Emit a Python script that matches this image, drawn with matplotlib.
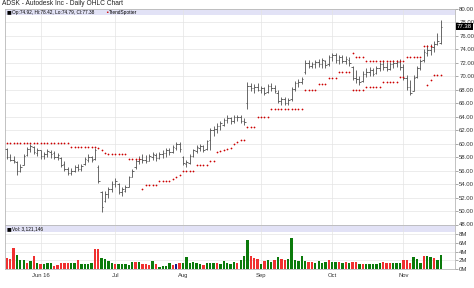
import numpy as np
import pandas as pd
import matplotlib
matplotlib.use("Agg")
import matplotlib.pyplot as plt

plt.rcParams['font.family'] = ['Liberation Sans', 'DejaVu Sans']

# trading days, 2016
holidays = ['2016-05-30', '2016-07-04', '2016-09-05']
days = pd.bdate_range('2016-05-17', '2016-11-16')
days = days[~days.isin(pd.to_datetime(holidays))]

opens = [59.2, 58.0, 57.6, 57.3, 56.0, 56.9, 58.3, 59.2, 59.5, 58.6,
         59.0, 58.2, 58.4, 58.8, 58.6, 58.0, 57.9, 57.0, 56.2, 55.6,
         56.0, 56.6, 56.2, 57.0, 57.6, 58.0, 57.7, 56.5, 52.8, 51.5,
         52.6, 53.2, 54.0, 54.0, 52.8, 53.0, 53.6, 55.0, 56.5, 57.4,
         57.8, 57.6, 57.5, 58.0, 58.3, 57.9, 58.4, 58.6, 59.0, 58.8,
         59.4, 60.0, 58.0, 57.0, 57.2, 58.1, 58.9, 59.4, 59.6, 59.2,
         60.5, 62.0, 62.2, 62.6, 62.8, 63.5, 63.8, 63.3, 63.9, 64.0,
         63.4, 66.0, 68.6, 68.2, 68.4, 68.0, 68.2, 67.7, 68.6, 68.2,
         67.6, 66.3, 66.6, 66.0, 66.6, 68.1, 69.0, 69.1, 70.6, 72.0,
         71.6, 71.9, 72.1, 71.8, 72.3, 71.8, 72.8, 73.1, 72.4, 72.8,
         72.3, 72.5, 71.4, 69.8, 69.6, 69.3, 70.4, 70.6, 70.9, 70.5,
         71.2, 71.8, 71.4, 71.1, 71.8, 72.0, 72.2, 71.4, 69.8, 68.4,
         67.8, 69.9, 71.3, 72.4, 73.4, 73.9, 74.3, 74.8, 74.92]
highs = [59.4, 58.4, 58.2, 57.4, 57.0, 58.4, 59.5, 60.0, 59.6, 59.3,
         59.0, 58.8, 59.2, 59.0, 58.9, 58.6, 58.0, 57.4, 56.6, 56.4,
         56.9, 57.0, 57.0, 58.0, 58.4, 58.2, 59.3, 56.8, 53.0, 53.0,
         53.6, 54.5, 54.9, 54.2, 53.6, 53.8, 55.2, 56.2, 57.7, 58.2,
         58.4, 58.3, 58.5, 58.7, 58.6, 58.8, 59.0, 59.3, 59.4, 59.8,
         60.3, 60.2, 58.2, 57.6, 58.4, 59.2, 59.8, 60.0, 59.8, 60.6,
         62.3, 62.6, 63.0, 63.4, 63.8, 64.2, 64.0, 64.2, 64.3, 64.2,
         63.8, 69.2, 69.0, 68.8, 69.0, 68.6, 68.4, 68.9, 69.0, 68.7,
         67.9, 67.0, 66.9, 66.8, 68.4, 69.3, 69.6, 69.9, 72.4, 72.4,
         72.2, 72.5, 72.6, 72.7, 72.4, 73.2, 73.5, 73.4, 73.1, 73.2,
         73.0, 72.9, 71.6, 70.9, 70.0, 70.8, 71.2, 71.4, 71.2, 71.6,
         72.2, 72.4, 72.2, 72.2, 72.4, 72.5, 72.6, 71.9, 70.2, 69.4,
         70.2, 71.6, 72.6, 74.0, 74.6, 74.8, 75.3, 76.4, 78.42]
lows = [57.8, 57.4, 57.2, 55.4, 55.8, 56.8, 58.2, 58.8, 58.4, 58.2,
        57.8, 57.8, 58.0, 57.9, 57.7, 57.6, 56.6, 56.0, 55.4, 55.3,
        55.8, 55.9, 55.9, 56.8, 57.3, 57.3, 57.6, 54.1, 49.9, 51.3,
        52.0, 52.8, 53.6, 52.6, 52.3, 52.8, 53.6, 55.0, 56.2, 57.0,
        57.2, 57.2, 57.4, 57.6, 57.5, 57.7, 57.9, 58.0, 58.3, 58.6,
        59.0, 58.8, 56.8, 56.5, 57.0, 58.0, 58.6, 58.9, 58.7, 59.0,
        59.0, 61.2, 61.6, 62.0, 62.6, 63.0, 62.9, 63.1, 63.3, 63.0,
        62.8, 65.2, 67.8, 67.6, 67.8, 67.5, 67.3, 67.6, 67.8, 67.5,
        66.0, 65.7, 65.7, 65.7, 66.4, 67.8, 68.4, 68.8, 70.4, 71.2,
        71.2, 71.3, 71.4, 71.2, 71.3, 71.6, 72.3, 72.0, 71.9, 72.0,
        71.8, 71.6, 69.4, 69.0, 68.7, 69.2, 69.9, 70.0, 70.0, 70.3,
        70.8, 71.0, 70.8, 70.9, 71.2, 71.4, 71.0, 69.4, 67.9, 67.2,
        67.8, 69.8, 71.0, 72.2, 73.0, 73.2, 73.6, 74.7, 74.79]
closes = [58.0, 57.6, 57.4, 55.9, 56.6, 58.2, 59.2, 59.6, 58.7, 59.0,
          58.2, 58.5, 58.9, 58.5, 58.0, 58.3, 56.9, 56.2, 55.7, 56.0,
          56.5, 56.2, 56.7, 57.8, 58.0, 57.6, 59.0, 54.5, 50.6, 52.6,
          53.3, 54.0, 54.4, 52.9, 53.2, 53.5, 55.0, 56.0, 57.4, 57.8,
          57.6, 57.5, 58.1, 58.4, 57.9, 58.5, 58.6, 59.0, 58.8, 59.5,
          60.0, 59.2, 57.2, 57.3, 58.1, 59.0, 59.5, 59.7, 59.0, 60.4,
          62.0, 62.2, 62.6, 63.0, 63.5, 63.8, 63.3, 63.9, 64.0, 63.4,
          63.2, 68.6, 68.2, 68.4, 68.0, 68.2, 67.6, 68.6, 68.3, 67.8,
          66.3, 66.6, 66.1, 66.5, 68.1, 69.0, 69.2, 69.6, 72.0, 71.6,
          71.9, 72.2, 71.8, 72.4, 71.7, 72.9, 73.2, 72.4, 72.8, 72.3,
          72.6, 72.0, 69.8, 69.6, 69.2, 70.4, 70.6, 70.9, 70.4, 71.2,
          71.9, 71.4, 71.1, 71.8, 72.0, 72.2, 71.4, 69.8, 68.4, 67.6,
          69.8, 71.3, 72.3, 73.6, 73.9, 74.3, 74.8, 75.2, 77.38]

N = np.nan
# TrendSpotter stops, above and below the bars
ts_upper = [60.15, 60.15, 60.15, 60.15, 60.15, 60.15, 60.15, 60.15, 60.15, 60.15,
            60.15, 60.15, 60.15, 60.15, 60.15, 60.15, 60.15, 60.15, 60.15, 59.5,
            59.5, 59.5, 59.5, 59.5, 59.5, 59.5, 59.5, 59.3, 59.0, 58.6,
            58.4, 58.4, 58.4, 58.4, 58.4, 58.4, 57.8, 57.8, 57.8, 57.8,
            N, N, N, N, N, N, N, N, N, N,
            N, N, N, N, N, N, N, N, N, N,
            N, N, N, N, N, N, N, N, N, N,
            N, N, N, N, N, N, N, N, N, N,
            N, N, N, N, N, N, N, N, N, N,
            N, N, N, N, N, N, N, N, N, N,
            N, N, 73.5, 72.9, 72.9, 72.9, 72.3, 72.3, 72.3, 72.3,
            72.3, 72.3, 72.3, 72.3, 72.3, 72.3, 72.3, 72.3, 72.8, 72.8,
            72.8, 72.8, 72.8, 74.5, 74.5, 74.5, N, N, N]
ts_lower = [N, N, N, N, N, N, N, N, N, N,
            N, N, N, N, N, N, N, N, N, N,
            N, N, N, N, N, N, N, N, N, N,
            N, N, N, N, N, N, N, N, N, N,
            53.2, 53.8, 53.8, 53.8, 53.8, 54.45, 54.45, 54.45, 54.45, 54.8,
            55.1, 55.4, 56.0, 56.0, 56.0, 56.0, 56.8, 56.8, 56.8, 56.8,
            57.5, 57.5, 58.8, 58.9, 59.1, 59.2, 59.3, 60.0, 60.2, 60.5,
            60.5, 62.5, 62.5, 62.5, 64.0, 64.0, 64.0, 64.0, 65.2, 65.2,
            65.2, 65.2, 65.2, 65.2, 65.2, 65.2, 65.2, 65.2, 67.9, 67.9,
            67.9, 67.9, 68.9, 68.9, 68.9, 69.7, 69.7, 69.7, 70.7, 70.7,
            70.7, 70.7, 67.9, 67.9, 67.9, 67.9, 68.4, 68.4, 68.4, 68.4,
            68.4, 69.2, 69.2, 69.2, 69.2, 69.2, 69.9, 69.9, N, N,
            N, N, N, N, 68.7, 69.4, 70.2, 70.2, 70.2]

volume = [2.5, 2.4, 4.8, 3.3, 2.0, 2.0, 1.5, 1.9, 3.0, 1.5,
          1.2, 1.3, 1.5, 1.4, 0.8, 0.9, 1.4, 1.4, 1.5, 1.4,
          1.4, 2.1, 1.1, 1.1, 1.1, 1.4, 4.6, 4.6, 2.5, 2.4,
          1.8, 1.5, 1.3, 1.2, 1.2, 1.3, 0.9, 1.7, 1.6, 1.7,
          1.3, 1.3, 0.9, 1.9, 1.1, 0.6, 0.8, 0.8, 1.4, 0.9,
          1.2, 1.4, 1.4, 2.7, 1.5, 1.7, 1.5, 1.3, 0.9, 1.5,
          1.4, 1.5, 1.5, 1.1, 1.9, 1.5, 1.3, 1.7, 1.5, 2.0,
          3.1, 6.7, 3.1, 2.5, 2.3, 1.3, 1.9, 2.0, 1.7, 2.1,
          2.7, 2.4, 2.0, 2.4, 7.1, 2.0, 1.8, 3.1, 1.9, 1.6,
          1.6, 1.5, 1.9, 1.5, 1.6, 2.1, 1.7, 1.6, 1.6, 1.4,
          1.6, 1.4, 1.6, 1.6, 1.3, 1.3, 1.1, 1.1, 1.2, 1.3,
          1.4, 1.7, 1.4, 1.4, 1.5, 1.5, 1.5, 2.0, 2.0, 1.5,
          2.7, 2.4, 1.5, 3.1, 2.9, 2.7, 2.5, 2.1, 3.121146]
# bar colour per day: g = up, r = down, b = unchanged
vol_dir = ['r', 'r', 'r', 'g', 'g', 'g', 'r', 'g', 'r', 'g',
           'r', 'g', 'g', 'g', 'r', 'r', 'r', 'r', 'r', 'g',
           'g', 'r', 'g', 'g', 'g', 'g', 'r', 'r', 'g', 'g',
           'g', 'g', 'r', 'g', 'g', 'g', 'g', 'g', 'r', 'g',
           'r', 'r', 'r', 'g', 'r', 'g', 'g', 'g', 'g', 'r',
           'b', 'r', 'g', 'g', 'g', 'g', 'g', 'g', 'r', 'g',
           'g', 'g', 'r', 'g', 'g', 'g', 'g', 'g', 'r', 'g',
           'g', 'g', 'r', 'r', 'r', 'g', 'r', 'g', 'g', 'r',
           'g', 'r', 'r', 'g', 'g', 'g', 'g', 'g', 'g', 'r',
           'r', 'g', 'g', 'g', 'g', 'r', 'g', 'g', 'r', 'g',
           'r', 'g', 'r', 'r', 'g', 'r', 'g', 'g', 'g', 'g',
           'g', 'r', 'r', 'r', 'g', 'g', 'g', 'r', 'r', 'r',
           'g', 'g', 'g', 'r', 'g', 'g', 'r', 'g', 'g']

month_labels = ['Jun 16', 'Jul', 'Aug', 'Sep', 'Oct', 'Nov']

x = np.arange(len(days))
month_pos = [i for i in range(1, len(days)) if days[i].month != days[i - 1].month]

W, H = 474, 288
fig = plt.figure(figsize=(W / 100, H / 100), dpi=100)
left, right = 4.7, 455
ax = fig.add_axes([left / W, (H - 224.5) / H, (right - left) / W, (224.5 - 9) / H])
axv = fig.add_axes([left / W, (H - 269.3) / H, (right - left) / W, (269.3 - 225) / H])

grid_c = '#e4e4e4'
band_c = '#e2e2f6'
spine_c = '#b8b8b8'
for a in (ax, axv):
    a.set_xlim(-0.6, 132.2)
    for s in a.spines.values():
        s.set_color(spine_c)
        s.set_linewidth(0.6)
    a.yaxis.tick_right()
    a.tick_params(axis='y', length=2, width=0.5, color='#888888', pad=1,
                  labelsize=4.3, labelcolor='#333333')
    a.tick_params(axis='x', length=0)
    a.set_xticks(month_pos)
    a.grid(True, color=grid_c, lw=0.5)
    a.set_axisbelow(True)

# price panel
ax.set_ylim(48, 80)
ax.set_yticks(np.arange(48, 81, 2))
ax.set_yticklabels(['%.2f' % v for v in np.arange(48, 81, 2)])
ax.set_xticklabels([])
ax.axhspan(79.05, 80, color=band_c, zorder=0.5, lw=0)

bar_c = '#505050'
ax.vlines(x, lows, highs, color=bar_c, lw=0.6, zorder=3)
ax.hlines(opens, x - 0.45, x, color=bar_c, lw=0.6, zorder=3)
ax.hlines(closes, x, x + 0.45, color=bar_c, lw=0.6, zorder=3)
ax.scatter(x, ts_upper, s=1.6, color='#cc0000', lw=0, zorder=4)
ax.scatter(x, ts_lower, s=1.6, color='#cc0000', lw=0, zorder=4)

ty = ax.get_yaxis_transform()
ax.text(0.004, 79.53, '\u25a0', fontsize=3.6, va='center', ha='left',
        transform=ty, family=['DejaVu Sans'])
ax.text(0.016, 79.53, 'Op:%.2f, Hi:%.2f, Lo:%.2f, Cl:%.2f'
        % (opens[-1], highs[-1], lows[-1], closes[-1]),
        fontsize=3.4, va='center', ha='left', transform=ty)
ax.text(0.222, 79.53, '\u2022', fontsize=4.2, va='center', ha='left', color='#cc0000',
        transform=ty, family=['DejaVu Sans'])
ax.text(0.232, 79.53, 'TrendSpotter', fontsize=3.4, va='center', ha='left',
        transform=ty)
ax.text(1.004, closes[-1], '%.2f' % closes[-1], fontsize=4.3, color='white',
        va='center', ha='left', transform=ty,
        bbox=dict(boxstyle='square,pad=0.15', fc='black', ec='none'))

# volume panel
vol = np.array(volume) * 1e6
cmap = {'g': '#0b7a0b', 'r': '#f03030', 'b': '#1c1c88'}
axv.bar(x, vol, width=0.7, color=[cmap[c] for c in vol_dir], zorder=3)
axv.set_ylim(0, 10e6)
axv.set_yticks([0, 2e6, 4e6, 6e6, 8e6])
axv.set_yticklabels(['0M', '2M', '4M', '6M', '8M'])
axv.set_xticklabels(month_labels)
axv.tick_params(axis='x', labelsize=4.2, pad=2.5, labelcolor='#333333')
axv.axhspan(8.35e6, 10e6, color=band_c, zorder=0.5, lw=0)
tv = axv.get_yaxis_transform()
axv.text(0.004, 9.17e6, '\u25a0', fontsize=3.6, va='center', ha='left',
         transform=tv, family=['DejaVu Sans'])
axv.text(0.016, 9.17e6, 'Vol: {:,}'.format(int(round(volume[-1] * 1e6))),
         fontsize=3.4, va='center', ha='left', transform=tv)

fig.text(2 / W, 1 - 3.8 / H, 'ADSK - Autodesk Inc - Daily OHLC Chart',
         fontsize=4.8, va='center', ha='left', color='#222222')

fig.savefig('out.png', dpi=100)
